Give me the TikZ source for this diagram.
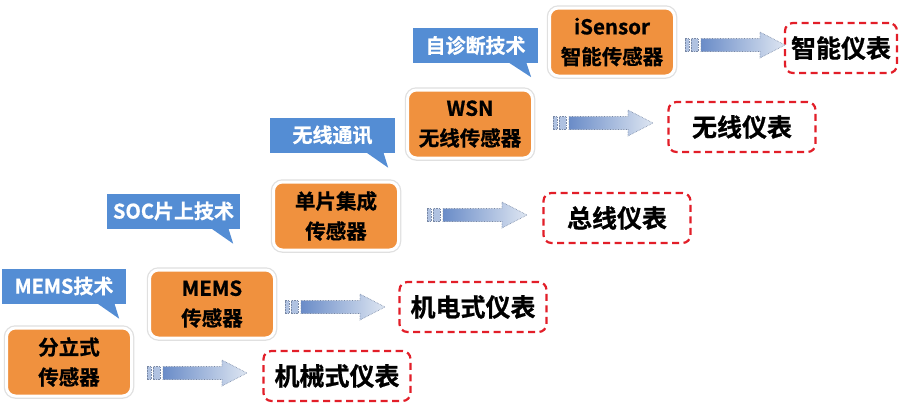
\documentclass[tikz,border=0pt]{standalone}
\usepackage{fontspec}
\setmainfont{Noto Sans CJK SC}[BoldFont={Noto Sans CJK SC Bold}, BoldFeatures={FakeBold=0.8}]
\usetikzlibrary{calc}
\definecolor{sensororange}{RGB}{240,145,62}
\definecolor{calloutblue}{RGB}{84,141,212}
\definecolor{meterred}{RGB}{226,30,40}
\definecolor{arrowdark}{RGB}{106,140,200}
\definecolor{arrowlight}{RGB}{222,230,242}
\definecolor{arrowedge}{RGB}{120,136,165}

\begin{document}
\begin{tikzpicture}[x=1pt,y=-1pt,
      sensor/.style ={rectangle, rounded corners=9pt, fill=sensororange, draw=white, line width=3pt,
                      preaction={draw=black!12, line width=5.5pt}, minimum width=125pt, minimum height=68pt,
                      align=center, inner sep=0pt, font=\fontsize{20.5}{30}\selectfont\bfseries},
      meter/.style  ={rectangle, rounded corners=8pt, draw=meterred, line width=2.2pt,
                      dash pattern=on 7pt off 4.5pt, minimum width=147pt, minimum height=50pt,
                      font=\fontsize{25}{29}\selectfont\bfseries},
      tech/.style   ={rectangle, fill=calloutblue, text=white, minimum height=35pt, inner sep=0pt,
                      font=\fontsize{20}{24}\selectfont\bfseries},
      stripearrow/.pic={
         \path[fill=arrowlight!60!arrowdark, draw=arrowedge, densely dotted, line width=0.6pt]
            (0,-6.5) rectangle (4,6.5) (6,-6.5) rectangle (13,6.5);
         \path[left color=arrowdark, right color=arrowlight, draw=arrowedge, densely dotted, line width=0.6pt]
            (16,-6.5) -- (75,-6.5) -- (75,-13) -- (100,0) -- (75,13) -- (75,6.5) -- (16,6.5) -- cycle;
      }]
   \useasboundingbox (0,0) rectangle (900,408);
   \fill[white] (0,0) rectangle (900,408);
   % technologies
   \node[tech, minimum width=124pt] (t1) at (64,286)    {MEMS技术};
   \node[tech, minimum width=133pt] (t2) at (173.5,211) {SOC片上技术};
   \node[tech, minimum width=125pt] (t3) at (332.5,135) {无线通讯};
   \node[tech, minimum width=125pt] (t4) at (475.5,45.5) {自诊断技术};
   \fill[calloutblue] ($(t1.south east)+(-30,-1)$) -- ($(t1.south east)+(-12,-1)$) -- ($(t1.south east)+(-7,15)$) -- cycle;
   \fill[calloutblue] ($(t2.south east)+(-30,-1)$) -- ($(t2.south east)+(-12,-1)$) -- ($(t2.south east)+(-7,15)$) -- cycle;
   \fill[calloutblue] ($(t3.south east)+(-30,-1)$) -- ($(t3.south east)+(-12,-1)$) -- ($(t3.south east)+(-7,15)$) -- cycle;
   \fill[calloutblue] ($(t4.south east)+(-30,-1)$) -- ($(t4.south east)+(-12,-1)$) -- ($(t4.south east)+(-7,14)$) -- cycle;
   % sensors
   \node[sensor] (s1) at (69,362)  {分立式\\传感器};
   \node[sensor] (s2) at (212,304) {MEMS\\传感器};
   \node[sensor] (s3) at (336,216) {单片集成\\传感器};
   \node[sensor] (s4) at (470,124) {WSN\\无线传感器};
   \node[sensor] (s5) at (612,42)  {iSensor\\智能传感器};
   % instruments
   \node[meter] (m1) at (337,376) {机械式仪表};
   \node[meter] (m2) at (473,307) {机电式仪表};
   \node[meter] (m3) at (617,218) {总线仪表};
   \node[meter] (m4) at (742,127) {无线仪表};
   \node[meter, minimum width=112pt] (m5) at (841,48) {智能仪表};
   % arrows
   \pic (a1) at (147,373) {stripearrow};
   \pic (a2) at (285,307) {stripearrow};
   \pic (a3) at (427,215) {stripearrow};
   \pic (a4) at (553,123) {stripearrow};
   \pic (a5) at (685,45)  {stripearrow};
\end{tikzpicture}
\end{document}
